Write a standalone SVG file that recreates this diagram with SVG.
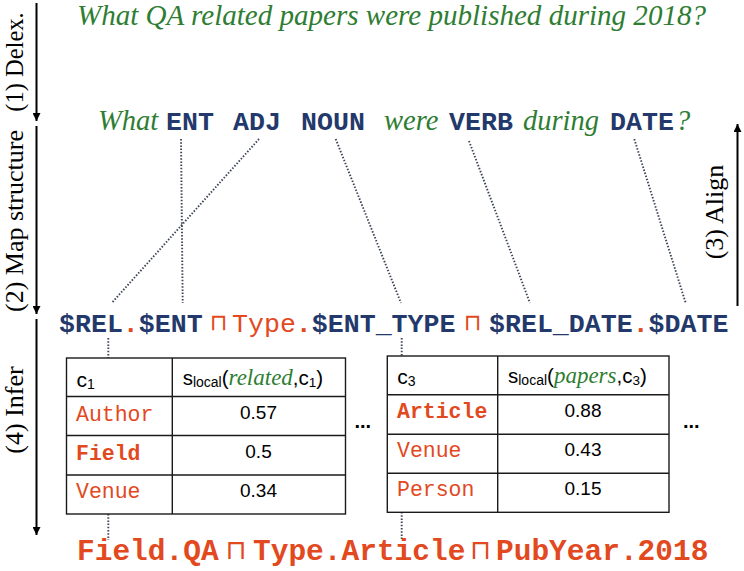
<svg xmlns="http://www.w3.org/2000/svg" width="744" height="571" viewBox="0 0 744 571">
<style>
.it{font-family:"Liberation Serif","Times New Roman",serif;font-style:italic;fill:#2e7d32}
.mb{font-family:"Liberation Mono","Courier New",monospace;font-weight:bold}
.mr{font-family:"Liberation Mono","Courier New",monospace;font-weight:normal}
.nv{fill:#24396b}
.or{fill:#e2491e}
.cap{font-family:"DejaVu Sans",sans-serif;fill:#e2491e}
.lbl{font-family:"Liberation Serif","Times New Roman",serif;font-size:26px;fill:#000;text-anchor:middle}
.sans{font-family:"Liberation Sans",Arial,sans-serif;fill:#000}
.num{font-family:"Liberation Sans",Arial,sans-serif;font-size:19px;fill:#000;text-anchor:middle}
.cell{font-size:21.5px}
.grid{fill:none;stroke:#1a1a1a;stroke-width:1.4}
.dot{fill:none;stroke:#3d4556;stroke-width:1.9;stroke-dasharray:1.5 1.7}
.arr{fill:none;stroke:#000;stroke-width:2}
</style>
<defs>
<marker id="ah" viewBox="0 0 10 10" refX="10" refY="5" markerWidth="11" markerHeight="8" markerUnits="userSpaceOnUse" orient="auto">
<path d="M0,0 L10,5 L0,10 z" fill="#000"/>
</marker>
</defs>

<g id="step-labels">
<text class="lbl" transform="translate(23,62) rotate(-90)" style="font-size:24.5px">(1) Delex.</text>
<text class="lbl" transform="translate(23,221) rotate(-90)">(2) Map structure</text>
<text class="lbl" transform="translate(723,212) rotate(-90)">(3) Align</text>
<text class="lbl" transform="translate(23,410) rotate(-90)">(4) Infer</text>
</g>

<g id="connectors">
<line class="arr" x1="36.5" y1="3" x2="36.5" y2="121" marker-end="url(#ah)"/>
<line class="arr" x1="36.5" y1="126" x2="36.5" y2="314" marker-end="url(#ah)"/>
<line class="arr" x1="36.5" y1="319" x2="36.5" y2="535" marker-end="url(#ah)"/>
<line class="arr" x1="737.5" y1="306" x2="737.5" y2="124" marker-end="url(#ah)"/>
<line class="dot" x1="181" y1="139" x2="182.7" y2="303"/>
<line class="dot" x1="259" y1="139" x2="111.7" y2="303"/>
<line class="dot" x1="335.7" y1="139" x2="401" y2="303"/>
<line class="dot" x1="469" y1="141" x2="530" y2="303"/>
<line class="dot" x1="634.3" y1="139" x2="685.7" y2="303"/>
<line class="dot" x1="108.3" y1="338" x2="108.3" y2="358"/>
<line class="dot" x1="401.7" y1="338" x2="401.7" y2="356"/>
<line class="dot" x1="108.3" y1="514" x2="108.3" y2="540"/>
<line class="dot" x1="401.7" y1="512" x2="401.7" y2="540"/>
</g>

<g id="question">
<text class="it" x="77" y="25" font-size="29" textLength="629" lengthAdjust="spacingAndGlyphs">What QA related papers were published during 2018?</text>
</g>

<g id="delexicalized">
<text class="it" x="98" y="130" font-size="28.5">What</text>
<text class="mb nv" x="166" y="130" font-size="26.6">ENT</text>
<text class="mb nv" x="233" y="130" font-size="26.6">ADJ</text>
<text class="mb nv" x="301" y="130" font-size="26.6">NOUN</text>
<text class="it" x="384" y="130" font-size="28.5">were</text>
<text class="mb nv" x="449" y="130" font-size="26.6">VERB</text>
<text class="it" x="523" y="130" font-size="28.5">during</text>
<text class="mb nv" x="610" y="130" font-size="26.6">DATE</text>
<text class="it" x="676" y="130" font-size="28.5">?</text>
</g>

<g id="template">
<text class="mb nv" x="59" y="332" font-size="26.6">$REL<tspan class="or">.</tspan>$ENT</text>
<text class="cap" x="210" y="329.5" font-size="23">⊓</text>
<text class="mb nv" x="232" y="332" font-size="26.6"><tspan class="mr or">Type</tspan><tspan class="or">.</tspan>$ENT_TYPE</text>
<text class="cap" x="464" y="329.5" font-size="23">⊓</text>
<text class="mb nv" x="489" y="332" font-size="26.6">$REL_DATE<tspan class="or">.</tspan>$DATE</text>
</g>

<g id="table-c1">
<rect class="grid" x="66.5" y="358" width="279" height="156"/>
<line class="grid" x1="172.3" y1="358" x2="172.3" y2="514"/>
<line class="grid" x1="66.5" y1="396.5" x2="345.5" y2="396.5"/>
<line class="grid" x1="66.5" y1="435.5" x2="345.5" y2="435.5"/>
<line class="grid" x1="66.5" y1="475" x2="345.5" y2="475"/>
<text class="sans" x="76.5" y="387" font-size="21">c<tspan font-size="14" dy="2">1</tspan></text>
<text class="sans" x="182.7" y="384.5" font-size="20.5">s<tspan font-size="14" dy="2.5">local</tspan><tspan dy="-2.5">(</tspan><tspan class="it" font-size="23">related</tspan>,c<tspan font-size="13.5" dy="2.5">1</tspan><tspan dy="-2.5">)</tspan></text>
<text class="mr or cell" x="76" y="421">Author</text>
<text class="mb or cell" x="76" y="460">Field</text>
<text class="mr or cell" x="76" y="498">Venue</text>
<text class="num" x="258.5" y="419">0.57</text>
<text class="num" x="258.5" y="458">0.5</text>
<text class="num" x="258.5" y="497">0.34</text>
</g>

<g id="ellipsis-1">
<text class="sans" x="354.5" y="428" font-size="20" font-weight="bold">...</text>
</g>

<g id="table-c3">
<rect class="grid" x="387.3" y="356" width="281.7" height="156.3"/>
<line class="grid" x1="497.7" y1="356" x2="497.7" y2="512.3"/>
<line class="grid" x1="387.3" y1="394.8" x2="669" y2="394.8"/>
<line class="grid" x1="387.3" y1="434.2" x2="669" y2="434.2"/>
<line class="grid" x1="387.3" y1="473.3" x2="669" y2="473.3"/>
<text class="sans" x="397.3" y="384" font-size="21">c<tspan font-size="14" dy="2">3</tspan></text>
<text class="sans" x="508" y="382.5" font-size="20.5">s<tspan font-size="14" dy="2.5">local</tspan><tspan dy="-2.5">(</tspan><tspan class="it" font-size="23">papers</tspan>,c<tspan font-size="13.5" dy="2.5">3</tspan><tspan dy="-2.5">)</tspan></text>
<text class="mb or cell" x="397" y="418">Article</text>
<text class="mr or cell" x="397" y="457">Venue</text>
<text class="mr or cell" x="397" y="496">Person</text>
<text class="num" x="583" y="417">0.88</text>
<text class="num" x="583" y="456">0.43</text>
<text class="num" x="583" y="495">0.15</text>
</g>

<g id="ellipsis-2">
<text class="sans" x="683" y="428" font-size="20" font-weight="bold">...</text>
</g>

<g id="query">
<text class="mb or" x="77" y="560" font-size="29.5">Field.QA</text>
<text class="cap" x="225.5" y="558.5" font-size="27">⊓</text>
<text class="mb or" x="253" y="560" font-size="29.5">Type.Article</text>
<text class="cap" x="470" y="558.5" font-size="27">⊓</text>
<text class="mb or" x="496" y="560" font-size="29.5">PubYear.2018</text>
</g>
</svg>
